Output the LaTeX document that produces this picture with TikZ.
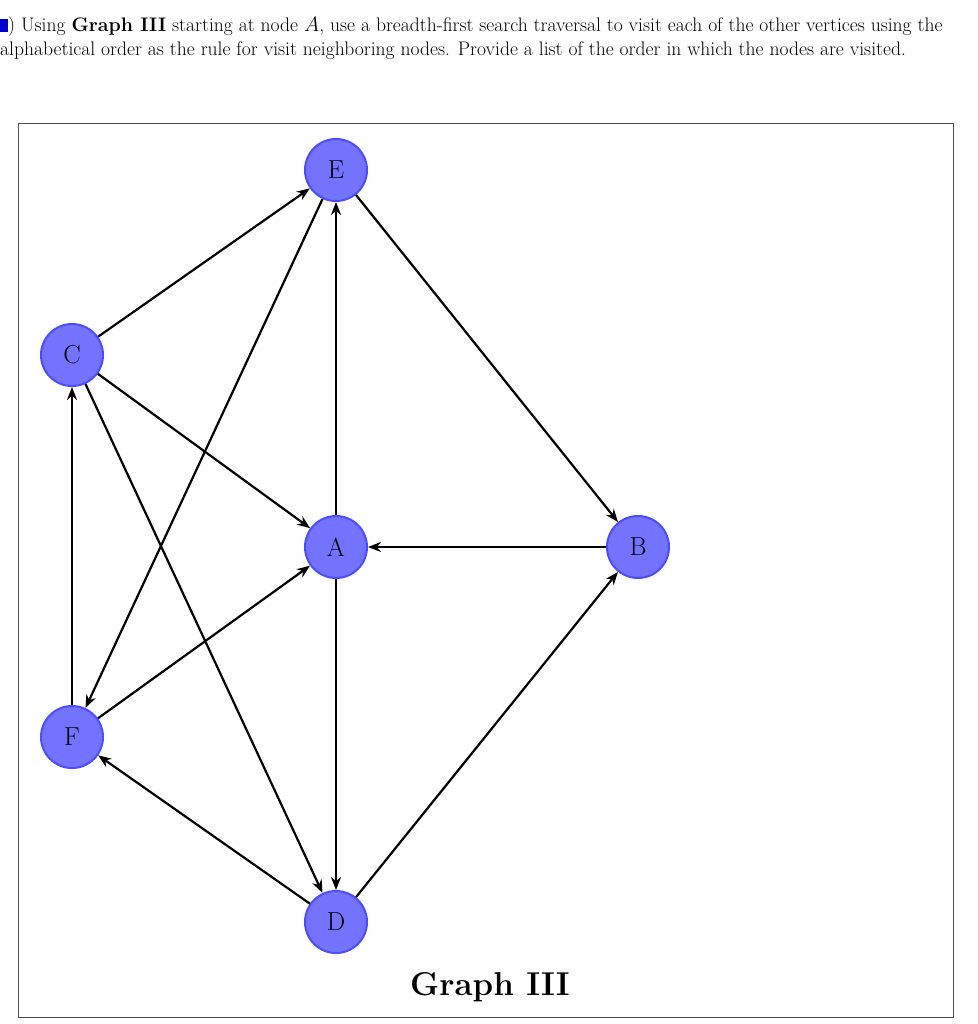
\documentclass[tikz,border=0pt]{standalone}
\usetikzlibrary{arrows.meta}
\begin{document}
\begin{tikzpicture}[x=1pt,y=-1pt,
  vert/.style={circle,draw=blue!70!white,fill=blue!55!white,line width=2pt,minimum size=62pt,inner sep=0pt,font=\fontsize{26}{26}\selectfont},
  edge/.style={line width=2.2pt,-{Stealth[length=13pt,width=10pt]}}]
\useasboundingbox (0,0) rectangle (977,1024);
\node[anchor=north west,inner sep=0pt,align=left,font=\fontsize{19.6}{24}\selectfont] (q) at (0,17)
 {\textcolor{blue!80!black}{\rule{8pt}{13pt}}) Using \textbf{Graph III} starting at node $A$, use a breadth-first search traversal to visit each of the other vertices using the\\
 alphabetical order as the rule for visit neighboring nodes. Provide a list of the order in which the nodes are visited.};
\draw[line width=1pt,black!70] (18,124) rectangle (953,1017);
\node[vert] (E) at (336,170) {E};
\node[vert] (C) at (72,355) {C};
\node[vert] (A) at (336,547) {A};
\node[vert] (B) at (638,547) {B};
\node[vert] (F) at (72,737) {F};
\node[vert] (D) at (336,922) {D};
\node[font=\fontsize{33}{33}\selectfont\bfseries] (t) at (490,987) {Graph III};
\draw[edge] (C) -- (E);
\draw[edge] (E) -- (F);
\draw[edge] (A) -- (E);
\draw[edge] (E) -- (B);
\draw[edge] (C) -- (A);
\draw[edge] (C) -- (D);
\draw[edge] (F) -- (C);
\draw[edge] (F) -- (A);
\draw[edge] (B) -- (A);
\draw[edge] (A) -- (D);
\draw[edge] (D) -- (F);
\draw[edge] (D) -- (B);
\end{tikzpicture}
\end{document}
